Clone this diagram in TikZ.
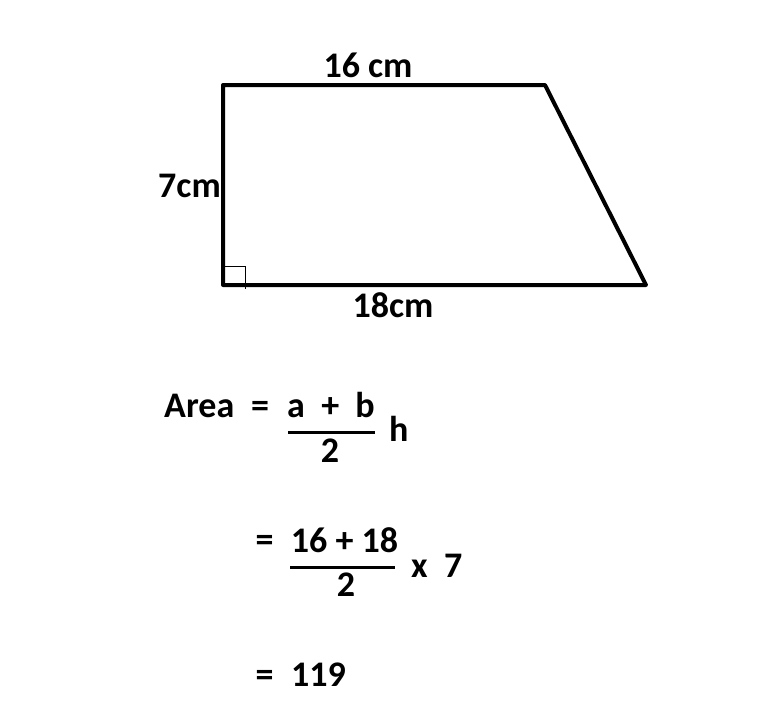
\documentclass[tikz,border=0pt]{standalone}
\usepackage{fontspec}
\setmainfont{Carlito}
\begin{document}
\begin{tikzpicture}[x=1pt,y=-1pt,
    lbl/.style={font=\bfseries\fontsize{36}{42}\selectfont,inner sep=0pt}]
    \useasboundingbox (0,0) rectangle (768,721);
    \coordinate (A) at (223,285);
    \coordinate (B) at (646,285);
    \coordinate (C) at (545,85);
    \coordinate (D) at (223,85);
    \draw[line width=4pt,line join=round] (A) -- (B) -- (C) -- (D) -- cycle;
    \draw[very thin] (223,266) -| (245,289);
    \node[lbl,anchor=base] (top) at (368,77) {16 cm};
    \node[lbl,anchor=base east] (side) at (221,197) {7cm};
    \node[lbl,anchor=base] (base) at (393,317) {18cm};
    % area formula
    \node[lbl,anchor=base west] (area) at (164,417) {Area};
    \node[lbl,anchor=base] (eqa) at (260,417) {=};
    \node[lbl,anchor=base] (numa) at (331,417) {a~~+~~b};
    \draw[line width=3pt] (288,432) -- (375,432);
    \node[lbl,anchor=base] (dena) at (330,462) {2};
    \node[lbl,anchor=base west] (h) at (389,441) {h};
    \node[lbl,anchor=base] (eqb) at (264.5,551) {=};
    \node[lbl,anchor=base] (numb) at (344.5,552) {16 + 18};
    \draw[line width=3pt] (290,567) -- (395,567);
    \node[lbl,anchor=base] (denb) at (346,596) {2};
    \node[lbl,anchor=base west] (times) at (411,577) {x~~7};
    \node[lbl,anchor=base] (eqc) at (264.5,686) {=};
    \node[lbl,anchor=base west] (res) at (291,686) {119};
\end{tikzpicture}
\end{document}
